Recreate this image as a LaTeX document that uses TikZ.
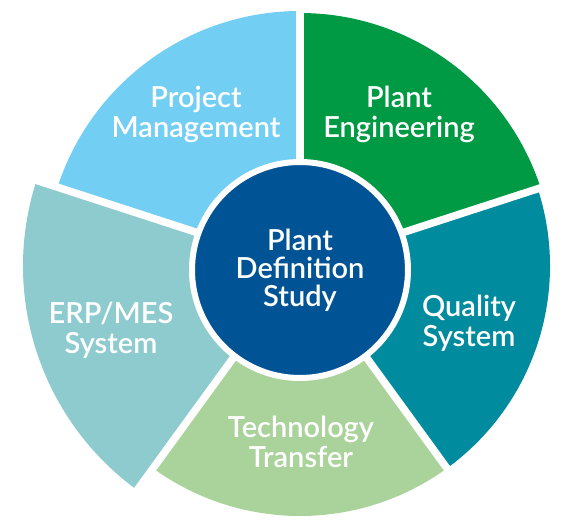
\documentclass[tikz,border=0pt]{standalone}
\usepackage{fontspec}
\setmainfont{Lato}[UprightFont=* Semibold]
\usepackage{xcolor}
\definecolor{Sky}{HTML}{73CEF4}
\definecolor{Forest}{HTML}{009A44}
\definecolor{Lagoon}{HTML}{008B9E}
\definecolor{Sage}{HTML}{AAD39B}
\definecolor{Seafoam}{HTML}{8ECBCE}
\definecolor{Navy}{HTML}{005496}
\colorlet{cProject}{Sky}
\colorlet{cEngineering}{Forest}
\colorlet{cQuality}{Lagoon}
\colorlet{cTransfer}{Sage}
\colorlet{cErp}{Seafoam}
\colorlet{cHub}{Navy}
\usepackage{tikz}
\usetikzlibrary{calc}
\tikzset{
	x=1pt,
	y=1pt,
	font = \fontsize{29}{30}\selectfont,
	segtext/.style={
		text=white,
		align=center,
		inner sep=0pt
	},
	gap/.style={
		white,
		line width=7.5pt
	},
	hub/.style={
		circle,
		fill=cHub,
		draw=white,
		line width=6pt,
		minimum size=216pt,
		inner sep=0pt,
		text=white,
		align=center,
		font=\fontsize{29}{28}\selectfont
	}
}

\begin{document}
\begin{tikzpicture}
\useasboundingbox (0,0) rectangle (563,528);
% ---
% segments of the wheel
% ---
\coordinate (pie) at (300,262);
\fill[cProject] (pie) -- ++(90:255) arc[start angle=90, end angle=162, radius=255] -- cycle;
\fill[cErp] (pie) -- ++(162:277) arc[start angle=162, end angle=234, radius=277] -- cycle;
\fill[cTransfer] (pie) -- ++(234:250) arc[start angle=234, end angle=306, radius=250] -- cycle;
\fill[cQuality] (pie) -- ++(-54:250) arc[start angle=-54, end angle=18, radius=250] -- cycle;
\fill[cEngineering] (pie) -- ++(18:253) arc[start angle=18, end angle=90, radius=253] -- cycle;

\foreach \a in {90,162,234,306,18}
	\draw[gap] (pie) -- ++(\a:285);

% ---
% hub and labels
% ---
\node[hub] (pds) at (300,258) {Plant\\Definition\\Study};

\node[segtext] (pm) at (196,414) {Project\\Management};
\node[segtext] (pe) at (399,414) {Plant\\Engineering};
\node[segtext] (qs) at (469,205) {Quality\\System};
\node[segtext] (tt) at (301,86) {Technology\\Transfer};
\node[segtext] (erp) at (111,198) {ERP/MES\\System};
\end{tikzpicture}
\end{document}
